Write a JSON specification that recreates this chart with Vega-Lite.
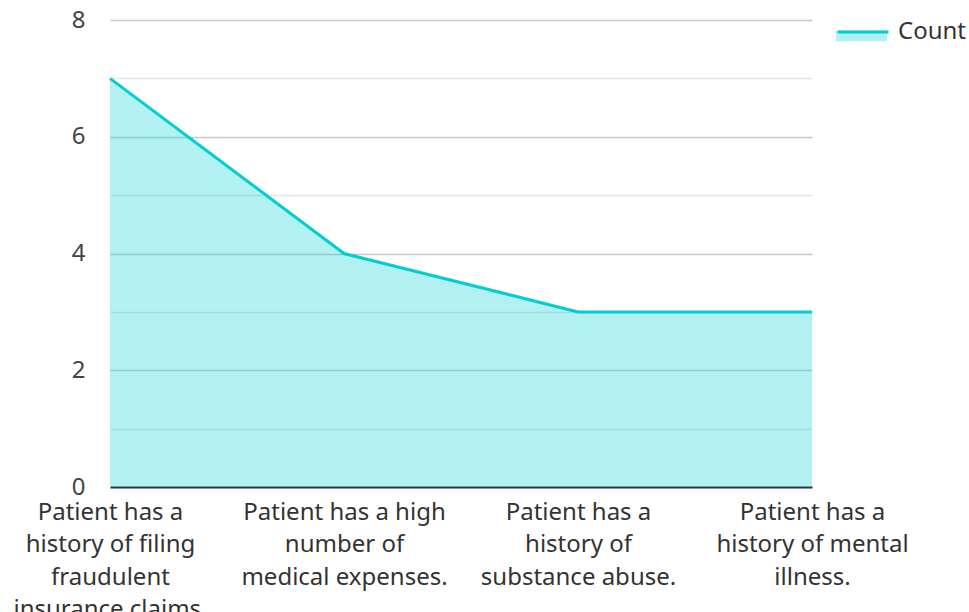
{
  "$schema": "https://vega.github.io/schema/vega-lite/v6.json",
  "width": 702,
  "height": 467,
  "autosize": {"type": "none"},
  "padding": {"left": 110, "top": 20, "right": 157, "bottom": 125},
  "config": {"view": {"stroke": null}, "font": "Noto Sans"},
  "data": {
    "values": [
      {"issue": "Patient has a history of filing fraudulent insurance claims.", "series": "Count", "count": 7},
      {"issue": "Patient has a high number of medical expenses.", "series": "Count", "count": 4},
      {"issue": "Patient has a history of substance abuse.", "series": "Count", "count": 3},
      {"issue": "Patient has a history of mental illness.", "series": "Count", "count": 3}
    ]
  },
  "encoding": {
    "x": {
      "field": "issue",
      "type": "nominal",
      "sort": null,
      "scale": {"type": "point", "padding": 0},
      "axis": {
        "title": null,
        "labelAngle": 0,
        "labelFontSize": 24,
        "labelColor": "#333333",
        "labelLineHeight": 32.5,
        "labelPadding": 13,
        "labelLimit": 0,
        "labelOverlap": false,
        "ticks": false,
        "domainColor": "#333333",
        "domainWidth": 2,
        "labelExpr": "datum.value == 'Patient has a history of filing fraudulent insurance claims.' ? ['Patient has a', 'history of filing', 'fraudulent', 'insurance claims.'] : datum.value == 'Patient has a high number of medical expenses.' ? ['Patient has a high', 'number of', 'medical expenses.'] : datum.value == 'Patient has a history of substance abuse.' ? ['Patient has a', 'history of', 'substance abuse.'] : ['Patient has a', 'history of mental', 'illness.']"
      }
    },
    "y": {
      "field": "count",
      "type": "quantitative",
      "scale": {"domain": [0, 8], "nice": false},
      "axis": {
        "title": null,
        "values": [0, 1, 2, 3, 4, 5, 6, 7, 8],
        "labelExpr": "datum.value % 2 == 0 ? datum.label : ''",
        "gridColor": {"condition": {"test": "datum.value % 2 == 1", "value": "#e6e6e6"}, "value": "#c8c8c8"},
        "gridWidth": 1.5,
        "domain": false,
        "ticks": false,
        "labelPadding": 25,
        "labelFontSize": 24,
        "labelColor": "#444444"
      }
    }
  },
  "layer": [
    {
      "mark": {"type": "area", "fillOpacity": 0.3},
      "encoding": {
        "fill": {
          "field": "series",
          "type": "nominal",
          "scale": {"range": ["#00CED1"]},
          "legend": {
            "title": null,
            "orient": "none",
            "legendX": 726,
            "legendY": -15,
            "padding": 0,
            "symbolType": "M-1,0H1V0.42H-1Z",
            "symbolSize": 2601,
            "symbolStrokeWidth": 0,
            "symbolOpacity": 0.3,
            "labelExpr": "''",
            "labelFontSize": 24
          }
        }
      }
    },
    {
      "mark": {"type": "line", "strokeWidth": 3},
      "encoding": {
        "stroke": {
          "field": "series",
          "type": "nominal",
          "scale": {"range": ["#00CED1"]},
          "legend": {
            "title": null,
            "orient": "none",
            "legendX": 726,
            "legendY": -15,
            "padding": 0,
            "symbolType": "stroke",
            "symbolSize": 2601,
            "symbolStrokeWidth": 3,
            "labelFontSize": 24,
            "labelColor": "#333333",
            "labelOffset": 8
          }
        }
      }
    }
  ]
}
